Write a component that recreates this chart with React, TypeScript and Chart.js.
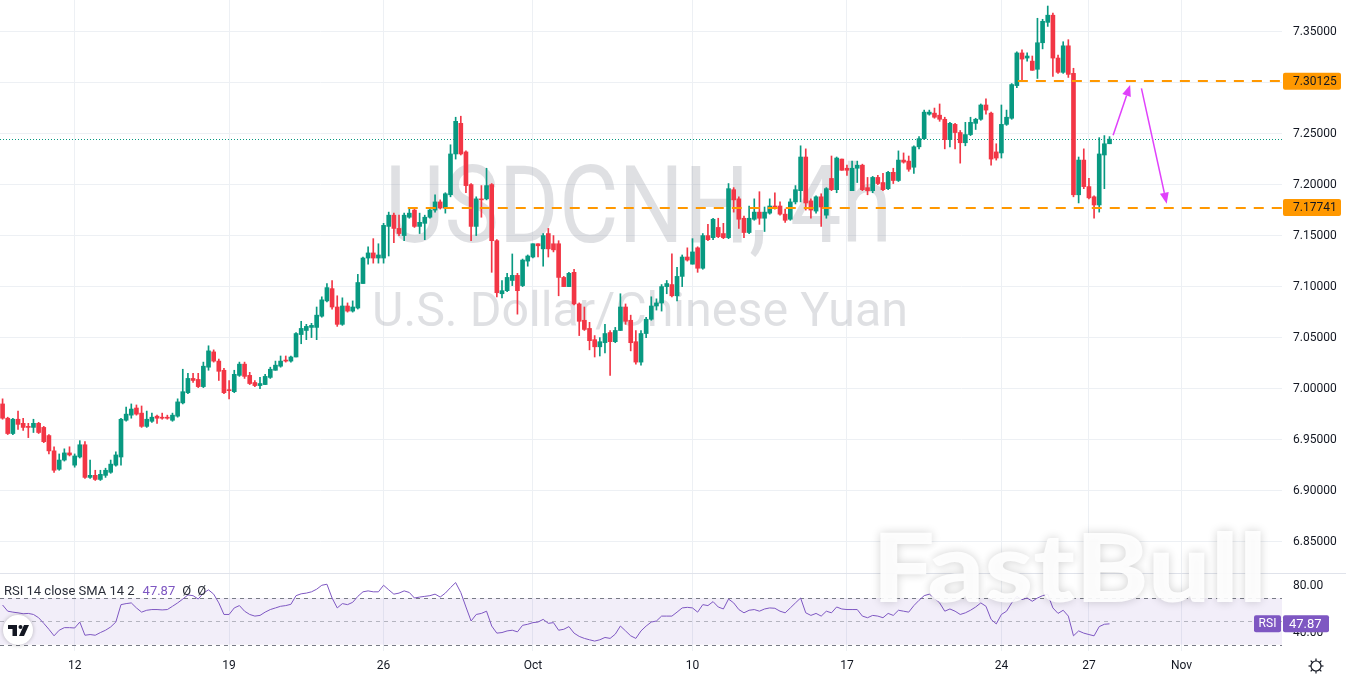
import React, { useEffect, useRef } from "react";
import { Chart, registerables } from "chart.js";
Chart.register(...registerables);

// ---------- data (4h candles, USDCNH) ----------
const SLOT_COUNT = 249; // bars incl. empty right margin
const opens = [
  6.985,6.971,6.956,6.970,6.966,6.963,6.962,6.966,6.962,6.954,
  6.939,6.921,6.930,6.937,6.925,6.933,6.945,6.913,6.915,6.911,
  6.915,6.918,6.925,6.933,6.969,6.974,6.981,6.976,6.963,6.968,
  6.973,6.972,6.972,6.969,6.973,6.986,6.996,7.010,7.009,7.002,
  7.021,7.036,7.027,7.018,6.999,6.997,7.013,7.024,7.013,7.006,
  7.003,7.004,7.011,7.018,7.022,7.028,7.027,7.031,7.053,7.057,
  7.060,7.060,7.071,7.086,7.098,7.080,7.063,7.081,7.076,7.079,
  7.103,7.128,7.133,7.128,7.128,7.159,7.170,7.157,7.150,7.168,
  7.175,7.159,7.162,7.168,7.175,7.183,7.177,7.190,7.230,7.260,
  7.232,7.200,7.159,7.186,7.186,7.200,7.145,7.093,7.096,7.106,
  7.111,7.101,7.125,7.129,7.142,7.137,7.152,7.142,7.142,7.109,
  7.100,7.114,7.083,7.067,7.059,7.048,7.041,7.045,7.055,7.046,
  7.057,7.080,7.067,7.046,7.026,7.054,7.068,7.081,7.084,7.100,
  7.102,7.091,7.110,7.129,7.122,7.138,7.118,7.150,7.148,7.158,
  7.152,7.148,7.195,7.186,7.167,7.153,7.166,7.173,7.167,7.172,
  7.179,7.179,7.171,7.166,7.183,7.194,7.227,7.184,7.174,7.188,
  7.170,7.206,7.195,7.225,7.216,7.194,7.216,7.219,7.197,7.194,
  7.207,7.202,7.196,7.212,7.204,7.224,7.223,7.217,7.237,7.245,
  7.269,7.270,7.268,7.264,7.244,7.259,7.251,7.241,7.249,7.260,
  7.264,7.278,7.270,7.232,7.231,7.259,7.265,7.297,7.329,7.324,
  7.321,7.313,7.339,7.359,7.366,7.324,7.310,7.336,7.309,7.190,
  7.224,7.198,7.188,7.180,7.229,7.240,
];
const highs = [
  6.990,6.972,6.971,6.978,6.971,6.966,6.970,6.967,6.963,6.955,
  6.943,6.936,6.941,6.943,6.936,6.949,6.948,6.930,6.920,6.920,
  6.922,6.930,6.938,6.971,6.982,6.985,6.984,6.983,6.978,6.976,
  6.974,6.976,6.974,6.976,6.990,7.019,7.015,7.015,7.015,7.026,
  7.042,7.038,7.029,7.020,7.008,7.018,7.026,7.026,7.016,7.008,
  7.011,7.014,7.021,7.027,7.032,7.032,7.032,7.055,7.066,7.063,
  7.064,7.080,7.090,7.103,7.106,7.091,7.089,7.084,7.086,7.112,
  7.129,7.139,7.147,7.142,7.162,7.173,7.172,7.170,7.172,7.176,
  7.177,7.172,7.170,7.177,7.190,7.185,7.192,7.239,7.266,7.267,
  7.233,7.201,7.188,7.199,7.216,7.201,7.146,7.106,7.113,7.132,
  7.113,7.127,7.131,7.142,7.142,7.152,7.157,7.150,7.145,7.110,
  7.114,7.117,7.084,7.080,7.065,7.052,7.050,7.063,7.057,7.060,
  7.093,7.083,7.072,7.057,7.057,7.070,7.090,7.088,7.102,7.106,
  7.132,7.119,7.131,7.138,7.147,7.139,7.152,7.161,7.167,7.167,
  7.162,7.201,7.197,7.188,7.169,7.179,7.186,7.193,7.178,7.186,
  7.192,7.183,7.176,7.186,7.199,7.238,7.235,7.186,7.189,7.191,
  7.197,7.228,7.227,7.225,7.219,7.223,7.223,7.220,7.207,7.208,
  7.209,7.211,7.213,7.216,7.233,7.231,7.228,7.238,7.247,7.273,
  7.273,7.275,7.279,7.266,7.261,7.260,7.253,7.261,7.266,7.265,
  7.279,7.284,7.271,7.240,7.278,7.273,7.299,7.330,7.332,7.329,
  7.326,7.363,7.362,7.375,7.368,7.327,7.340,7.342,7.314,7.227,
  7.235,7.206,7.189,7.246,7.248,7.247,
];
const lows = [
  6.970,6.955,6.955,6.960,6.959,6.952,6.957,6.956,6.947,6.936,
  6.918,6.920,6.929,6.934,6.923,6.932,6.912,6.912,6.910,6.910,
  6.913,6.917,6.924,6.925,6.968,6.971,6.974,6.962,6.962,6.967,
  6.966,6.970,6.970,6.968,6.972,6.985,6.995,7.006,7.001,7.001,
  7.018,7.026,7.008,6.995,6.990,6.996,7.012,7.010,7.004,7.002,
  7.000,7.004,7.010,7.018,7.021,7.026,7.026,7.031,7.044,7.048,
  7.050,7.048,7.070,7.085,7.078,7.061,7.062,7.075,7.075,7.078,
  7.103,7.122,7.123,7.123,7.123,7.130,7.143,7.150,7.145,7.167,
  7.158,7.152,7.146,7.167,7.173,7.176,7.172,7.188,7.225,7.229,
  7.192,7.145,7.150,7.168,7.185,7.114,7.090,7.089,7.095,7.101,
  7.073,7.100,7.120,7.128,7.129,7.120,7.129,7.134,7.091,7.100,
  7.100,7.082,7.052,7.057,7.038,7.031,7.032,7.035,7.013,7.045,
  7.057,7.063,7.037,7.024,7.023,7.050,7.067,7.077,7.076,7.093,
  7.090,7.086,7.100,7.125,7.122,7.114,7.117,7.145,7.146,7.148,
  7.147,7.147,7.173,7.157,7.148,7.152,7.165,7.161,7.154,7.171,
  7.176,7.170,7.163,7.165,7.181,7.183,7.175,7.167,7.172,7.159,
  7.167,7.194,7.192,7.214,7.209,7.194,7.202,7.194,7.190,7.192,
  7.200,7.194,7.195,7.201,7.203,7.221,7.213,7.211,7.235,7.244,
  7.268,7.265,7.262,7.235,7.237,7.235,7.221,7.238,7.248,7.254,
  7.263,7.269,7.219,7.224,7.226,7.258,7.264,7.295,7.301,7.321,
  7.312,7.304,7.333,7.355,7.306,7.309,7.309,7.305,7.188,7.182,
  7.196,7.186,7.167,7.173,7.196,7.240,
];
const closes = [
  6.971,6.956,6.970,6.965,6.962,6.962,6.966,6.957,6.948,6.939,
  6.920,6.930,6.937,6.935,6.934,6.945,6.913,6.915,6.911,6.916,
  6.920,6.926,6.935,6.970,6.975,6.980,6.975,6.963,6.970,6.972,
  6.971,6.971,6.971,6.974,6.987,6.997,7.010,7.008,7.002,7.022,
  7.037,7.027,7.017,6.996,6.998,7.014,7.024,7.012,7.005,7.003,
  7.005,7.012,7.019,7.023,7.027,7.027,7.031,7.054,7.059,7.061,
  7.062,7.072,7.087,7.099,7.080,7.063,7.081,7.076,7.080,7.104,
  7.128,7.133,7.128,7.131,7.160,7.170,7.157,7.152,7.170,7.172,
  7.159,7.163,7.168,7.175,7.183,7.177,7.191,7.230,7.262,7.230,
  7.199,7.159,7.186,7.185,7.199,7.145,7.094,7.096,7.109,7.111,
  7.096,7.126,7.130,7.142,7.140,7.150,7.137,7.136,7.109,7.100,
  7.113,7.083,7.066,7.058,7.047,7.041,7.046,7.054,7.046,7.057,
  7.080,7.066,7.045,7.026,7.054,7.068,7.081,7.084,7.100,7.103,
  7.091,7.110,7.129,7.126,7.134,7.118,7.150,7.146,7.166,7.149,
  7.148,7.196,7.185,7.166,7.153,7.167,7.173,7.167,7.173,7.179,
  7.178,7.171,7.165,7.183,7.195,7.227,7.182,7.175,7.188,7.178,
  7.196,7.195,7.226,7.214,7.214,7.216,7.219,7.195,7.194,7.207,
  7.201,7.195,7.212,7.204,7.224,7.222,7.215,7.237,7.245,7.271,
  7.271,7.266,7.264,7.244,7.260,7.251,7.241,7.249,7.261,7.264,
  7.278,7.273,7.225,7.226,7.259,7.266,7.298,7.329,7.323,7.326,
  7.312,7.339,7.360,7.366,7.324,7.310,7.336,7.308,7.190,7.224,
  7.198,7.187,7.180,7.230,7.240,7.2445,
];
const rsiValues = [
  64.0,58.7,57.9,57.3,56.5,56.8,55.9,53.1,48.3,43.2,
  37.6,42.4,44.6,44.6,44.3,49.4,38.1,38.7,38.1,40.4,
  42.4,45.2,49.4,64.3,65.2,65.8,61.5,57.9,59.5,60.1,
  60.1,59.8,60.1,62.9,65.8,69.1,72.6,72.0,69.1,74.2,
  77.0,73.3,65.8,55.9,55.9,61.5,63.5,58.7,55.9,54.5,
  55.1,57.9,60.1,61.5,62.9,63.5,64.6,72.0,73.6,74.2,
  75.3,77.5,80.9,81.8,70.0,61.5,65.2,64.3,66.3,71.4,
  75.3,76.1,75.3,75.3,80.9,77.0,73.3,74.2,76.1,74.7,
  70.0,70.8,71.4,72.0,73.3,70.8,74.2,78.9,83.2,74.7,
  62.3,50.3,55.9,56.8,58.7,46.0,39.9,40.4,41.8,42.4,
  41.0,46.6,47.5,48.9,49.4,51.7,48.3,48.9,42.4,43.2,
  45.5,39.9,37.1,35.4,34.2,33.1,34.2,36.2,35.4,39.0,
  46.0,41.8,37.6,35.4,41.8,46.0,49.4,50.3,54.5,54.5,
  54.5,57.9,61.5,62.0,61.5,57.9,64.3,63.5,66.9,62.3,
  60.6,69.1,65.8,60.1,57.3,59.5,60.1,58.7,60.6,61.5,
  61.2,58.7,57.3,61.5,65.8,70.0,57.3,55.1,56.8,54.5,
  58.7,57.3,62.3,60.6,60.1,60.1,60.1,54.5,53.1,55.1,
  54.5,53.1,56.8,55.1,59.5,58.7,57.9,63.5,68.0,72.0,
  73.3,70.0,65.8,58.7,60.6,58.7,55.9,57.3,59.5,62.3,
  65.8,62.9,51.7,47.8,55.9,58.7,65.8,71.4,68.6,70.0,
  67.2,70.0,72.0,73.3,61.5,56.8,59.5,54.5,37.6,41.8,
  39.9,38.7,37.6,45.5,47.5,47.87,
];
const xTickLabels = ["12", "19", "26", "Oct", "10", "17", "24", "27", "Nov"];
const xTickBars = [14, 44, 74, 103, 134, 164, 194, 211, 229];
const priceTicks = [6.85, 6.9, 6.95, 7.0, 7.05, 7.1, 7.15, 7.2, 7.25, 7.3, 7.35];
const rsiTicks = [40, 80];
const rsiBands = [70, 50, 30];
const levelPrices = [7.30125, 7.17741];
const levelStartBars = [197.2, 78.7];
const arrowFromBars = [215.7, 221.2];
const arrowFromPrices = [7.2484, 7.2942];
const arrowToBars = [219.0, 226.1];
const arrowToPrices = [7.2975, 7.1813];
const watermarkTitle = "USDCNH, 4h";
const watermarkSubtitle = "U.S. Dollar/Chinese Yuan";
const rsiLegend = "RSI 14 close SMA 14 2";

// ---------- layout & style ----------
const W = 1346;
const MAIN_H = 573;
const RSI_TOP = 574;
const RSI_H = 104;
const AXIS_W = 64;
const PRICE_MIN = 6.8193;
const PRICE_MAX = 7.3809;
const RSI_MIN = 24.6;
const RSI_MAX = 90.56;
const FONT = "Roboto, 'Noto Sans', 'DejaVu Sans', sans-serif";
const UP = "#089981";
const DOWN = "#f23645";
const ORANGE = "#ff9800";
const MAGENTA = "#e040fb";
const RSI_COLOR = "#7e57c2";
const GRID = "#edf0f4";
const TEXT = "#131722";

const labels = Array.from({ length: SLOT_COUNT }, (_, i) => String(i));
const candleColor = (i: number) => (closes[i] >= opens[i] ? UP : DOWN);

function drawFitted(ctx: CanvasRenderingContext2D, text: string, cx: number, baseline: number, capH: number, width: number, family: string, weight: string) {
  ctx.font = `${weight} 100px ${family}`;
  const capRatio = ctx.measureText("H").actualBoundingBoxAscent / 100 || 0.71;
  const size = capH / capRatio;
  ctx.font = `${weight} ${size}px ${family}`;
  const w = ctx.measureText(text).width;
  ctx.save();
  ctx.translate(cx, baseline);
  ctx.scale(width / w, 1);
  ctx.textAlign = "center";
  ctx.textBaseline = "alphabetic";
  ctx.fillText(text, 0, 0);
  ctx.restore();
}

function roundRect(ctx: CanvasRenderingContext2D, x: number, y: number, w: number, h: number, r: number) {
  ctx.beginPath();
  ctx.moveTo(x + r, y);
  ctx.lineTo(x + w - r, y);
  ctx.quadraticCurveTo(x + w, y, x + w, y + r);
  ctx.lineTo(x + w, y + h - r);
  ctx.quadraticCurveTo(x + w, y + h, x + w - r, y + h);
  ctx.lineTo(x + r, y + h);
  ctx.quadraticCurveTo(x, y + h, x, y + h - r);
  ctx.lineTo(x, y + r);
  ctx.quadraticCurveTo(x, y, x + r, y);
  ctx.closePath();
}

function drawArrow(ctx: CanvasRenderingContext2D, x1: number, y1: number, x2: number, y2: number) {
  const ang = Math.atan2(y2 - y1, x2 - x1);
  const hl = 11, hw = 4.5;
  const bx = x2 - hl * Math.cos(ang), by = y2 - hl * Math.sin(ang);
  ctx.beginPath();
  ctx.moveTo(x1, y1);
  ctx.lineTo(bx, by);
  ctx.stroke();
  ctx.beginPath();
  ctx.moveTo(x2, y2);
  ctx.lineTo(bx + hw * Math.sin(ang), by - hw * Math.cos(ang));
  ctx.lineTo(bx - hw * Math.sin(ang), by + hw * Math.cos(ang));
  ctx.closePath();
  ctx.fill();
}

const zeroPad = (axis: any) => {
  axis.paddingTop = 0;
  axis.paddingBottom = 0;
  axis.paddingLeft = 0;
  axis.paddingRight = 0;
};

const mainDecor = {
  id: "mainDecor",
  beforeDatasetsDraw(chart: any) {
    const { ctx, chartArea: a, scales } = chart;
    const y = scales.y;
    ctx.save();
    ctx.fillStyle = "rgba(149,152,161,0.3)";
    drawFitted(ctx, watermarkTitle, 638.5, 242, 77, 507, "Roboto, sans-serif", "400");
    drawFitted(ctx, watermarkSubtitle, 640, 326, 35, 536, "Roboto, sans-serif", "400");
    const yp = Math.round(y.getPixelForValue(closes[closes.length - 1])) + 0.5;
    ctx.strokeStyle = UP;
    ctx.lineWidth = 1;
    ctx.setLineDash([1, 2]);
    ctx.beginPath();
    ctx.moveTo(a.left, yp);
    ctx.lineTo(a.right, yp);
    ctx.stroke();
    ctx.restore();
  },
  afterDatasetsDraw(chart: any) {
    const { ctx, chartArea: a, scales } = chart;
    const x = scales.x, y = scales.y;
    ctx.save();
    ctx.strokeStyle = ORANGE;
    ctx.lineWidth = 2;
    ctx.setLineDash([10, 8]);
    levelPrices.forEach((p, k) => {
      const yp = Math.round(y.getPixelForValue(p));
      ctx.beginPath();
      ctx.moveTo(x.getPixelForValue(levelStartBars[k]), yp);
      ctx.lineTo(a.right, yp);
      ctx.stroke();
    });
    ctx.setLineDash([]);
    ctx.strokeStyle = MAGENTA;
    ctx.fillStyle = MAGENTA;
    ctx.lineWidth = 1.5;
    arrowFromBars.forEach((b, k) => {
      drawArrow(
        ctx,
        x.getPixelForValue(b), y.getPixelForValue(arrowFromPrices[k]),
        x.getPixelForValue(arrowToBars[k]), y.getPixelForValue(arrowToPrices[k])
      );
    });
    ctx.restore();
  },
  afterDraw(chart: any) {
    const { ctx, chartArea: a, scales } = chart;
    const y = scales.y;
    ctx.save();
    levelPrices.forEach((p) => {
      const yp = y.getPixelForValue(p);
      ctx.fillStyle = ORANGE;
      roundRect(ctx, a.right + 1, yp - 8.5, 58, 17, 2);
      ctx.fill();
      ctx.fillStyle = TEXT;
      ctx.font = `12px ${FONT}`;
      ctx.textAlign = "left";
      ctx.textBaseline = "middle";
      ctx.fillText(p.toFixed(5), a.right + 11, yp + 0.5);
    });
    ctx.restore();
  },
};

const rsiDecor = {
  id: "rsiDecor",
  beforeDatasetsDraw(chart: any) {
    const { ctx, chartArea: a, scales } = chart;
    const y = scales.y;
    ctx.save();
    const yTop = y.getPixelForValue(rsiBands[0]);
    const yBot = y.getPixelForValue(rsiBands[2]);
    ctx.fillStyle = "rgba(126,87,194,0.1)";
    ctx.fillRect(a.left, yTop, a.right - a.left, yBot - yTop);
    ctx.lineWidth = 1;
    ctx.setLineDash([4, 4]);
    rsiBands.forEach((v, k) => {
      const yp = Math.round(y.getPixelForValue(v)) + 0.5;
      ctx.strokeStyle = k === 1 ? "rgba(120,123,134,0.5)" : "#787b86";
      ctx.beginPath();
      ctx.moveTo(a.left, yp);
      ctx.lineTo(a.right, yp);
      ctx.stroke();
    });
    ctx.restore();
  },
  afterDraw(chart: any) {
    const { ctx, chartArea: a, scales } = chart;
    const y = scales.y;
    const last = rsiValues[rsiValues.length - 1];
    const yp = y.getPixelForValue(last);
    ctx.save();
    ctx.fillStyle = RSI_COLOR;
    roundRect(ctx, a.right - 28, yp - 8.5, 27, 17, 2);
    ctx.fill();
    roundRect(ctx, a.right + 1, yp - 8.5, 46, 17, 2);
    ctx.fill();
    ctx.fillStyle = "#ffffff";
    ctx.font = `12px ${FONT}`;
    ctx.textBaseline = "middle";
    ctx.textAlign = "center";
    ctx.fillText("RSI", a.right - 14.5, yp + 0.5);
    ctx.textAlign = "left";
    ctx.font = `13px ${FONT}`;
    ctx.fillText(last.toFixed(2), a.right + 7, yp + 0.5);
    // settings icon
    const gx = 1316, gy = 92;
    ctx.strokeStyle = TEXT;
    ctx.lineWidth = 1.2;
    ctx.beginPath();
    ctx.arc(gx, gy, 5, 0, Math.PI * 2);
    ctx.stroke();
    for (let k = 0; k < 8; k++) {
      const t = (k * Math.PI) / 4;
      ctx.beginPath();
      ctx.moveTo(gx + 5 * Math.cos(t), gy + 5 * Math.sin(t));
      ctx.lineTo(gx + 7.5 * Math.cos(t), gy + 7.5 * Math.sin(t));
      ctx.stroke();
    }
    ctx.restore();
  },
};

export default function App() {
  const mainRef = useRef<HTMLCanvasElement>(null);
  const rsiRef = useRef<HTMLCanvasElement>(null);
  const overRef = useRef<HTMLCanvasElement>(null);

  useEffect(() => {
    const common: any = {
      animation: false,
      responsive: false,
      maintainAspectRatio: false,
      devicePixelRatio: 1,
      events: [],
      layout: { padding: 0 },
      plugins: { legend: { display: false }, tooltip: { enabled: false } },
    };
    const xBase = (showLabels: boolean, height: number): any => ({
      type: "category",
      offset: true,
      grid: { offset: false, color: GRID, drawTicks: false },
      border: { display: false },
      afterBuildTicks: (axis: any) => {
        axis.ticks = xTickBars.map((v) => ({ value: v }));
      },
      afterFit: (axis: any) => {
        axis.height = height;
        zeroPad(axis);
      },
      ticks: showLabels
        ? {
            display: true,
            autoSkip: false,
            maxRotation: 0,
            color: TEXT,
            font: { family: FONT, size: 12 },
            padding: 8,
            callback: (_v: any, i: number) => xTickLabels[i],
          }
        : { display: false },
    });
    const yBase = (min: number, max: number, ticks: number[], digits: number, grid: boolean): any => ({
      type: "linear",
      position: "right",
      min,
      max,
      afterBuildTicks: (axis: any) => {
        axis.ticks = ticks.map((v) => ({ value: v }));
      },
      afterFit: (axis: any) => {
        axis.width = AXIS_W;
        zeroPad(axis);
      },
      grid: grid ? { color: GRID, drawTicks: false } : { display: false, drawTicks: false },
      border: { display: false },
      ticks: {
        color: TEXT,
        font: { family: FONT, size: 12 },
        padding: 11,
        callback: (v: any) => Number(v).toFixed(digits),
      },
    });

    const main = new Chart(mainRef.current as HTMLCanvasElement, {
      type: "bar",
      data: {
        labels,
        datasets: [
          {
            label: "wicks",
            data: lows.map((l, i) => [l, highs[i]]) as any,
            backgroundColor: (c: any) => candleColor(c.dataIndex),
            barThickness: 1,
            grouped: false,
            order: 2,
            minBarLength: 1,
          } as any,
          {
            label: "bodies",
            data: opens.map((o, i) => [o, closes[i]]) as any,
            backgroundColor: (c: any) => candleColor(c.dataIndex),
            barThickness: 4,
            grouped: false,
            order: 1,
            minBarLength: 1,
          } as any,
        ],
      },
      options: {
        ...common,
        scales: {
          x: xBase(false, 0),
          y: yBase(PRICE_MIN, PRICE_MAX, priceTicks, 5, true),
        },
      },
      plugins: [mainDecor],
    });

    const rsi = new Chart(rsiRef.current as HTMLCanvasElement, {
      type: "line",
      data: {
        labels,
        datasets: [
          {
            label: "RSI",
            data: rsiValues,
            borderColor: RSI_COLOR,
            borderWidth: 1,
            pointRadius: 0,
            tension: 0,
            fill: false,
          },
        ],
      },
      options: {
        ...common,
        scales: {
          x: xBase(true, 27),
          y: yBase(RSI_MIN, RSI_MAX, rsiTicks, 2, false),
        },
      },
      plugins: [rsiDecor],
    });

    // overlay: logos / watermark
    const oc = overRef.current as HTMLCanvasElement;
    const octx = oc.getContext("2d") as CanvasRenderingContext2D;
    octx.clearRect(0, 0, oc.width, oc.height);
    octx.save();
    octx.shadowColor = "rgba(0,0,0,0.2)";
    octx.shadowBlur = 10;
    octx.fillStyle = "rgba(255,255,255,0.9)";
    drawFitted(octx, "FastBull", 1069.5, 602, 69, 395, "Lato, 'Noto Sans', sans-serif", "900");
    octx.restore();
    // TradingView badge
    octx.save();
    octx.shadowColor = "rgba(0,0,0,0.25)";
    octx.shadowBlur = 4;
    octx.fillStyle = "#ffffff";
    octx.beginPath();
    octx.arc(18, 630, 15, 0, Math.PI * 2);
    octx.fill();
    octx.restore();
    octx.save();
    octx.fillStyle = "#131722";
    octx.fillRect(8, 625, 9, 4);
    octx.fillRect(12.5, 625, 4.5, 11);
    octx.beginPath();
    octx.arc(20.5, 627, 2, 0, Math.PI * 2);
    octx.fill();
    octx.beginPath();
    octx.moveTo(24, 625);
    octx.lineTo(29, 625);
    octx.lineTo(24, 636);
    octx.lineTo(19, 636);
    octx.closePath();
    octx.fill();
    octx.restore();

    return () => {
      main.destroy();
      rsi.destroy();
    };
  }, []);

  return (
    <div style={{ position: "fixed", left: 0, top: 0, width: W, height: 678, background: "#ffffff", overflow: "hidden" }}>
      <canvas ref={mainRef} width={W} height={MAIN_H} style={{ position: "absolute", left: 0, top: 0 }} />
      <div style={{ position: "absolute", left: 0, top: MAIN_H, width: W, height: 1, background: "#e0e3eb" }} />
      <canvas ref={rsiRef} width={W} height={RSI_H} style={{ position: "absolute", left: 0, top: RSI_TOP }} />
      <div
        style={{
          position: "absolute",
          left: 4,
          top: 582,
          fontFamily: FONT,
          fontSize: 13,
          lineHeight: "18px",
          color: "#2a2e39",
          whiteSpace: "pre",
        }}
      >
        <span>{rsiLegend}</span>
        <span style={{ color: RSI_COLOR, marginLeft: 8 }}>{rsiValues[rsiValues.length - 1].toFixed(2)}</span>
        <span style={{ marginLeft: 7 }}>Ø</span>
        <span style={{ marginLeft: 6 }}>Ø</span>
      </div>
      <canvas ref={overRef} width={W} height={678} style={{ position: "absolute", left: 0, top: 0, pointerEvents: "none" }} />
    </div>
  );
}
